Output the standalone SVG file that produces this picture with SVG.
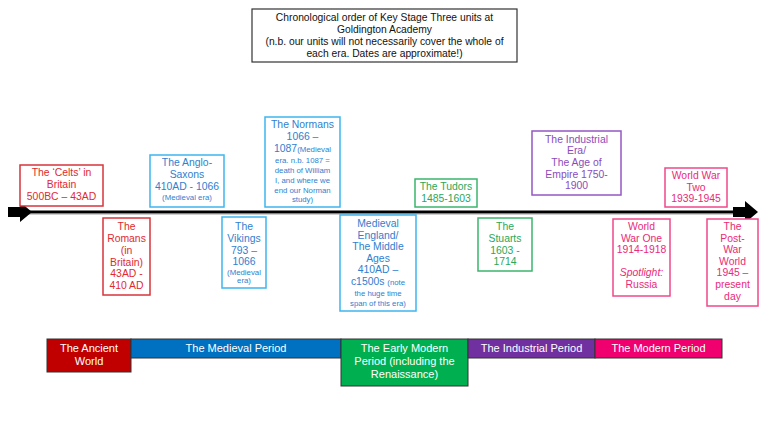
<svg xmlns="http://www.w3.org/2000/svg" width="768" height="433" viewBox="0 0 768 433">
<style>
text{font-family:"Liberation Sans",Arial,sans-serif;font-size:10.4px;text-anchor:middle}
.s{font-size:7.8px}
.t{font-size:10.3px;fill:#111}
.box{fill:#fff;stroke-width:1.5}
.red rect{stroke:#d8343c}.red text{fill:#e02a30}
.blue rect{stroke:#3db5ee}.blue text{fill:#2f80d0}
.green rect{stroke:#3bb56c}.green text{fill:#2aa858}
.purple rect{stroke:#9457c4}.purple text{fill:#8a4cbd}
.pink rect{stroke:#f0478a}.pink text{fill:#ea2a78}
.bar rect{stroke:#333;stroke-width:1}
.bar text{fill:#fff;font-size:11px}
</style>
<rect width="768" height="433" fill="#fff"/>
<g id="title">
<rect x="252" y="9" width="265" height="53" fill="#fff" stroke="#333" stroke-width="1.2"/>
<text class="t" x="384.5" y="21">Chronological order of Key Stage Three units at</text>
<text class="t" x="384.5" y="33">Goldington Academy</text>
<text class="t" x="384.5" y="45">(n.b. our units will not necessarily cover the whole of</text>
<text class="t" x="384.5" y="57">each era. Dates are approximate!)</text>
</g>
<g id="connectors">
<line x1="20" y1="212" x2="746" y2="212" stroke="#000" stroke-width="3"/>
<line x1="20" y1="214" x2="746" y2="214" stroke="#888" stroke-width="0.8"/>
<polygon points="8,207 20,207 20,202 32,212 20,222 20,217 8,217" fill="#000"/>
<polygon points="733,207 745,207 745,201 758,212 745,223 745,217 733,217" fill="#000"/>
</g>
<g id="celts" class="red">
<rect class="box" x="20" y="165" width="83" height="41"/>
<text x="61.5" y="176">The ‘Celts’ in</text>
<text x="61.5" y="188">Britain</text>
<text x="61.5" y="200">500BC – 43AD</text>
</g>
<g id="romans" class="red">
<rect class="box" x="103" y="218" width="47" height="77"/>
<text x="126.5" y="230">The</text>
<text x="126.5" y="242">Romans</text>
<text x="126.5" y="254">(in</text>
<text x="126.5" y="266">Britain)</text>
<text x="126.5" y="277">43AD -</text>
<text x="126.5" y="289">410 AD</text>
</g>
<g id="anglosaxons" class="blue">
<rect class="box" x="150" y="155" width="74" height="52"/>
<text x="187" y="166">The Anglo-</text>
<text x="187" y="178">Saxons</text>
<text x="187" y="190">410AD - 1066</text>
<text x="187" y="200" class="s">(Medieval era)</text>
</g>
<g id="vikings" class="blue">
<rect class="box" x="222" y="217" width="44" height="71"/>
<text x="244" y="230">The</text>
<text x="244" y="242">Vikings</text>
<text x="244" y="254">793 –</text>
<text x="244" y="265">1066</text>
<text x="244" y="275" class="s">(Medieval</text>
<text x="244" y="283" class="s">era)</text>
</g>
<g id="normans" class="blue">
<rect class="box" x="265" y="117" width="75" height="90"/>
<text x="302.5" y="128">The Normans</text>
<text x="302.5" y="140">1066 –</text>
<text x="302.5" y="152">1087<tspan class="s">(Medieval</tspan></text>
<text x="302.5" y="163" class="s">era. n.b. 1087 =</text>
<text x="302.5" y="173" class="s">death of William</text>
<text x="302.5" y="183" class="s">I, and where we</text>
<text x="302.5" y="193" class="s">end our Norman</text>
<text x="302.5" y="202" class="s">study)</text>
</g>
<g id="medieval-england" class="blue">
<rect class="box" x="340" y="215" width="76" height="96"/>
<text x="378" y="227">Medieval</text>
<text x="378" y="239">England/</text>
<text x="378" y="250">The Middle</text>
<text x="378" y="262">Ages</text>
<text x="378" y="273">410AD –</text>
<text x="378" y="285">c1500s <tspan class="s">(note</tspan></text>
<text x="378" y="296" class="s">the huge time</text>
<text x="378" y="306" class="s">span of this era)</text>
</g>
<g id="tudors" class="green">
<rect class="box" x="415" y="179" width="62" height="28"/>
<text x="446" y="190">The Tudors</text>
<text x="446" y="202">1485-1603</text>
</g>
<g id="stuarts" class="green">
<rect class="box" x="478" y="218" width="54" height="53"/>
<text x="505" y="230">The</text>
<text x="505" y="242">Stuarts</text>
<text x="505" y="254">1603 -</text>
<text x="505" y="265">1714</text>
</g>
<g id="industrial-era" class="purple">
<rect class="box" x="532" y="131" width="89" height="64"/>
<text x="576.5" y="143">The Industrial</text>
<text x="576.5" y="154">Era/</text>
<text x="576.5" y="166">The Age of</text>
<text x="576.5" y="178">Empire 1750-</text>
<text x="576.5" y="189">1900</text>
</g>
<g id="ww1" class="pink">
<rect class="box" x="613" y="219" width="57" height="77"/>
<text x="641.5" y="230">World</text>
<text x="641.5" y="242">War One</text>
<text x="641.5" y="253">1914-1918</text>
<text x="641.5" y="276" font-style="italic">Spotlight:</text>
<text x="641.5" y="288">Russia</text>
</g>
<g id="ww2" class="pink">
<rect class="box" x="665" y="168" width="62" height="39"/>
<text x="696" y="179">World War</text>
<text x="696" y="191">Two</text>
<text x="696" y="202">1939-1945</text>
</g>
<g id="postwar" class="pink">
<rect class="box" x="707" y="219" width="51" height="87"/>
<text x="732.5" y="230">The</text>
<text x="732.5" y="242">Post-</text>
<text x="732.5" y="253">War</text>
<text x="732.5" y="265">World</text>
<text x="732.5" y="276">1945 –</text>
<text x="732.5" y="288">present</text>
<text x="732.5" y="300">day</text>
</g>
<g id="ancient" class="bar">
<rect x="47" y="339" width="84" height="33" fill="#c00000"/>
<text x="89" y="352">The Ancient</text>
<text x="89" y="365">World</text>
</g>
<g id="medieval-period" class="bar">
<rect x="131" y="339" width="210" height="19" fill="#0070c0"/>
<text x="236" y="352">The Medieval Period</text>
</g>
<g id="early-modern" class="bar">
<rect x="341" y="339" width="127" height="47" fill="#00b050"/>
<text x="404.5" y="352">The Early Modern</text>
<text x="404.5" y="365">Period (including the</text>
<text x="404.5" y="378">Renaissance)</text>
</g>
<g id="industrial-period" class="bar">
<rect x="468" y="339" width="127" height="19" fill="#7030a0"/>
<text x="531.5" y="352">The Industrial Period</text>
</g>
<g id="modern-period" class="bar">
<rect x="595" y="339" width="127" height="19" fill="#f0006e"/>
<text x="658.5" y="352">The Modern Period</text>
</g>
</svg>
